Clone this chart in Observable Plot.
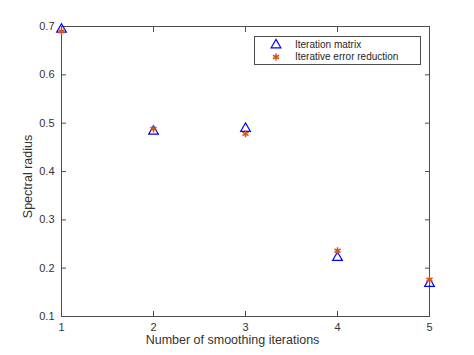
<!DOCTYPE html>
<html><head><meta charset="utf-8">
<script src="https://cdn.jsdelivr.net/npm/d3@7"></script>
<script src="https://cdn.jsdelivr.net/npm/@observablehq/plot@0.6"></script>
<style>
body{margin:0;background:#fff;font-family:"Liberation Sans",Arial,sans-serif}
#wrap{position:relative;width:474px;height:355px}
#legend{position:absolute;left:254px;top:36px;width:165px;height:27px;border:1px solid #4d4d4d;background:#fff;font-size:10px;color:#262626}
#legend .row{position:absolute;left:0;height:14px;line-height:14px;white-space:nowrap}
#legend svg{position:absolute;left:14px;top:0}
#legend span{position:absolute;left:40px;top:0}
</style>
</head><body><div id="wrap"></div>
<script>
const iterations = [1, 2, 3, 4, 5];
const iterationMatrix = [0.694, 0.483, 0.489, 0.222, 0.168];
const errorReduction = [0.690, 0.488, 0.478, 0.236, 0.176];
const xTicks = [1, 2, 3, 4, 5];
const yTicks = [0.1, 0.2, 0.3, 0.4, 0.5, 0.6, 0.7];
const seriesNames = ["Iteration matrix", "Iterative error reduction"];
const seriesColors = ["#0000ff", "#D95319"];
const xLabel = "Number of smoothing iterations";
const yLabel = "Spectral radius";

const rows = [];
iterations.forEach((it, i) => {
  rows.push({x: it, y: iterationMatrix[i], s: seriesNames[0]});
  rows.push({x: it, y: errorReduction[i], s: seriesNames[1]});
});

const axisColor = "#4d4d4d";
const chart = Plot.plot({
  width: 474,
  height: 355,
  marginLeft: 61,
  marginRight: 45,
  marginTop: 26,
  marginBottom: 39,
  style: {fontFamily: "Liberation Sans, Arial, sans-serif", fontSize: "11px", color: "#333", background: "#fff"},
  x: {domain: [1, 5]},
  y: {domain: [0.1, 0.7]},
  marks: [
    Plot.frame({stroke: axisColor}),
    Plot.axisX({ticks: xTicks, tickSize: -5, tickPadding: 12, stroke: axisColor, tickFormat: d3.format("d"), label: null}),
    Plot.axisX({anchor: "top", ticks: xTicks, tickSize: -5, stroke: axisColor, tickFormat: () => "", label: null}),
    Plot.axisY({ticks: yTicks, tickSize: -5, tickPadding: 12, stroke: axisColor, tickFormat: d3.format(".1f"), label: null}),
    Plot.axisY({anchor: "right", ticks: yTicks, tickSize: -5, stroke: axisColor, tickFormat: () => "", label: null}),
    Plot.text([xLabel], {frameAnchor: "bottom", dy: 27, dx: -13, fontSize: 12.5, fill: "#333"}),
    Plot.text([yLabel], {frameAnchor: "left", textAnchor: "middle", rotate: -90, dx: -34, dy: 5, fontSize: 12.5, fill: "#333"}),
    Plot.dot(rows.filter(d => d.s === seriesNames[0]), {x: "x", y: "y", symbol: "triangle", r: 3.6, stroke: seriesColors[0], fill: "none", strokeWidth: 1.2}),
    Plot.dot(rows.filter(d => d.s === seriesNames[1]), {x: "x", y: "y", symbol: "asterisk", r: 3.3, stroke: seriesColors[1], fill: "none", strokeWidth: 1.5})
  ]
});
document.getElementById("wrap").appendChild(chart);

// legend
const legend = document.createElement("div");
legend.id = "legend";
const symbols = [d3.symbolTriangle, d3.symbolAsterisk];
const sizes = [3.6 * 3.6 * Math.PI, 3.3 * 3.3 * Math.PI];
seriesNames.forEach((name, i) => {
  const row = document.createElement("div");
  row.className = "row";
  row.style.top = (i === 0 ? 1 : 13) + "px";
  row.style.width = "165px";
  const svg = d3.create("svg").attr("width", 14).attr("height", 14);
  svg.append("path").attr("transform", "translate(7,7)")
    .attr("d", d3.symbol(symbols[i], sizes[i])())
    .attr("fill", "none").attr("stroke", seriesColors[i]).attr("stroke-width", i === 0 ? 1.2 : 1.5);
  row.appendChild(svg.node());
  const sp = document.createElement("span");
  sp.textContent = name;
  row.appendChild(sp);
  legend.appendChild(row);
});
document.getElementById("wrap").appendChild(legend);
</script>
</body></html>
